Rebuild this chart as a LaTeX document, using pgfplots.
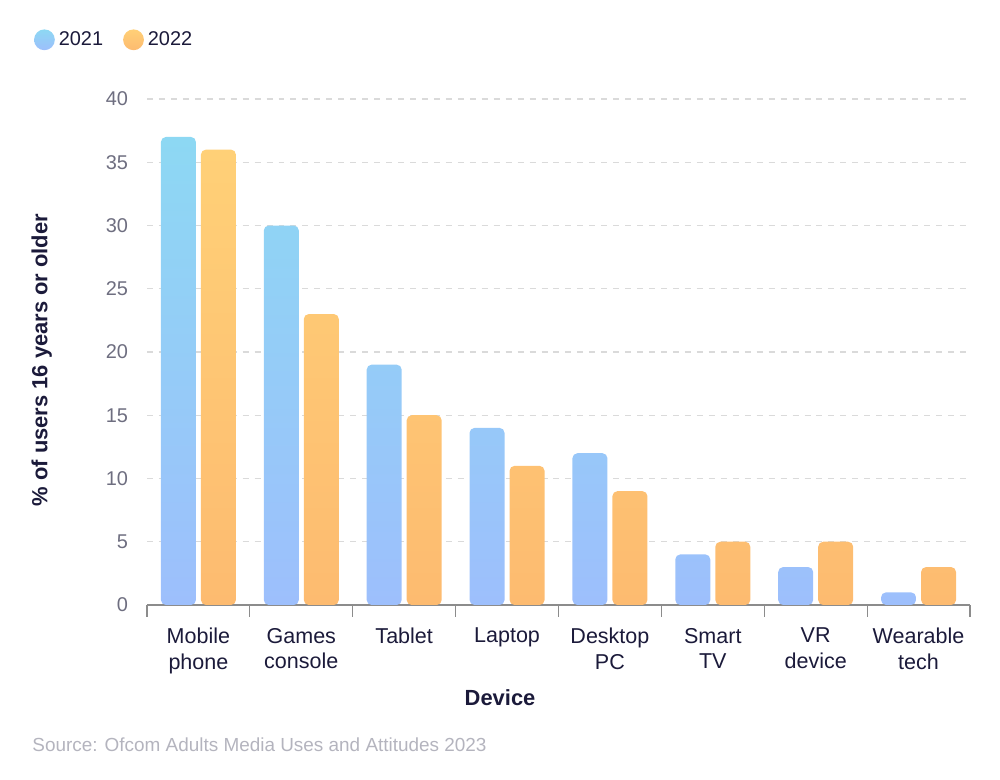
\documentclass[border=0pt]{standalone}
\usepackage{fontspec}
\setmainfont{Liberation Sans}
\usepackage{pgfplots}
\pgfplotsset{compat=1.18}

\definecolor{blueTop}{HTML}{8DD8F3}
\definecolor{blueBot}{HTML}{9DBFFC}
\definecolor{orTop}{HTML}{FFD077}
\definecolor{orBot}{HTML}{FDBB70}
\definecolor{axisgray}{HTML}{8C8C8C}
\definecolor{gridgray}{HTML}{DADADA}
\definecolor{ticktext}{HTML}{6E6E80}
\definecolor{darktext}{HTML}{1B1A3A}
\definecolor{srctext}{HTML}{B4B4BE}

\begin{document}
\begin{tikzpicture}
\path[use as bounding box] (0,0) rectangle (500bp,390bp);
\begin{axis}[
  at={(73.5bp,87.5bp)}, anchor=south west,
  scale only axis,
  width=411.5bp, height=253bp,
  xmin=-0.5, xmax=7.5,
  ymin=0, ymax=40,
  ytick={0,5,...,40},
  xtick={0,...,7},
  xticklabels={Mobile\\phone, Games\\console, Tablet, Laptop, Desktop\\PC, Smart\\TV, VR\\device, Wearable\\tech},
  xticklabel style={align=center, font=\fontsize{10.8}{13}\selectfont, text=darktext, anchor=north, yshift=-8bp},
  yticklabel style={font=\fontsize{10}{11}\selectfont, text=ticktext, xshift=-6bp},
  /pgf/number format/assume math mode=true,
  axis lines*=left,
  y axis line style={draw=none},
  x axis line style={draw=axisgray, line width=0.6pt},
  major tick length=0pt,
  tick align=outside,
  ytick style={draw=none},
  extra x ticks={-0.5,0.5,...,7.5},
  extra x tick labels={},
  extra x tick style={grid=none, major tick length=6bp, tick style={draw=axisgray, line width=0.6pt}},
  ymajorgrids=true,
  grid style={dashed, gridgray, line width=0.6pt},
  ybar=2.5bp,
  bar width=17.5bp,
  xlabel={Device},
  xlabel style={font=\bfseries\fontsize{11}{12}\selectfont, text=darktext, at={(axis description cs:0.429,-0.184)}, anchor=center},
  ylabel={\% of users 16 years or older},
  ylabel style={font=\bfseries\fontsize{11}{12}\selectfont, text=darktext, at={(axis description cs:-0.128,0.484)}, anchor=center},
  legend style={at={(axis description cs:-0.145,1.117)}, anchor=west, draw=none, fill=none,
    legend columns=2, font=\fontsize{10}{12}\selectfont, text=darktext,
    /tikz/every even column/.append style={column sep=8bp}},
  legend image code/.code={\shade[#1] (0bp,0bp) circle (5.2bp);},
]
\addplot[draw=none, top color=blueTop, bottom color=blueBot, rounded corners=2.5bp]
  coordinates {(0,37) (1,30) (2,19) (3,14) (4,12) (5,4) (6,3) (7,1)};
\addplot[draw=none, top color=orTop, bottom color=orBot, rounded corners=2.5bp]
  coordinates {(0,36) (1,23) (2,15) (3,11) (4,9) (5,5) (6,5) (7,3)};
\legend{2021, 2022}
\end{axis}
\node[anchor=west, text=srctext, font=\fontsize{9.5}{11}\selectfont, inner sep=0pt] at (16bp,17.5bp) {Source: Ofcom Adults Media Uses and Attitudes 2023};
\end{tikzpicture}
\end{document}
